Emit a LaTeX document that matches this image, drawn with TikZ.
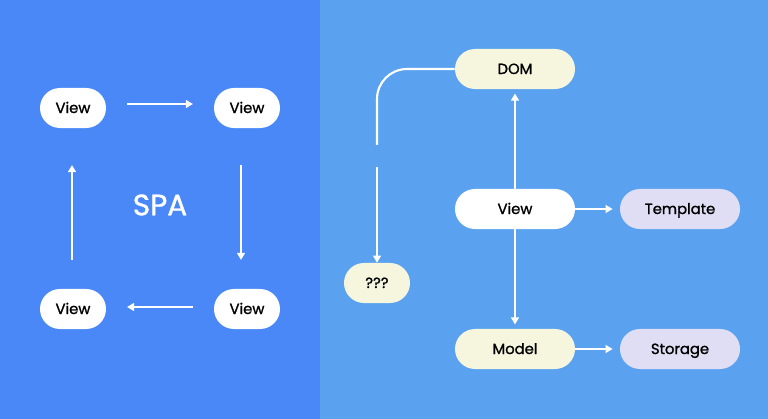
\documentclass[tikz,border=0pt]{standalone}
\usepackage{fontspec}
\setmainfont{Poppins}
\newfontfamily\medfont{Poppins}[FakeBold=1.2]
\usetikzlibrary{arrows.meta}
\definecolor{leftbg}{HTML}{4A88F7}
\definecolor{rightbg}{HTML}{5AA2F0}
\definecolor{cream}{HTML}{F5F6DD}
\definecolor{lilac}{HTML}{E0DEF5}
\begin{document}
\begin{tikzpicture}
        [x=0.025cm,y=-0.025cm,
        pill/.style={rounded corners=0.5cm, minimum height=1cm, inner sep=0pt, text height=1.6ex, text depth=0.3ex, font=\medfont\fontsize{10.5}{12}\selectfont},
        small/.style={pill, fill=white, minimum width=1.65cm},
        wide/.style={pill, minimum width=3cm},
        arrow/.style={draw=white, line width=1.5pt, -{Triangle[width=5.5pt,length=5pt]}}]
        \fill[leftbg] (0,0) rectangle (320,419);
        \fill[rightbg] (320,0) rectangle (768,419);
        \node[small] (tl) at (73,108) {View};
        \node[small] (tr) at (247,108) {View};
        \node[small] (br) at (247,309) {View};
        \node[small] (bl) at (73,309) {View};
        \node[text=white, font=\medfont\fontsize{21}{24}\selectfont] (spa) at (160,205) {SPA};
        \draw[arrow] (127,104) -- (193,104);
        \draw[arrow] (241,165) -- (241,260);
        \draw[arrow] (193,307) -- (127,307);
        \draw[arrow] (72,260) -- (72,165);
        \node[wide, fill=cream] (dom) at (515,69) {DOM};
        \node[wide, fill=white] (view) at (515,209) {View};
        \node[wide, fill=lilac] (tpl) at (680,209) {Template};
        \node[wide, fill=cream] (model) at (515,349) {Model};
        \node[wide, fill=lilac] (store) at (680,349) {Storage};
        \node[small, fill=cream] (q) at (377,283) {???};
        \coordinate (gapa) at (377,145);
        \coordinate (gapb) at (377,167);
        \draw[draw=white, line width=1.5pt, rounded corners=0.75cm] (dom.west) -| (gapa);
        \draw[arrow] (gapb) -- (q.north);
        \draw[arrow] (view.north) -- ([yshift=-3pt]dom.south);
        \draw[arrow] (view.south) -- ([yshift=3pt]model.north);
        \draw[arrow] (view.east) -- ([xshift=-5pt]tpl.west);
        \draw[arrow] (model.east) -- ([xshift=-5pt]store.west);
\end{tikzpicture}
\end{document}
